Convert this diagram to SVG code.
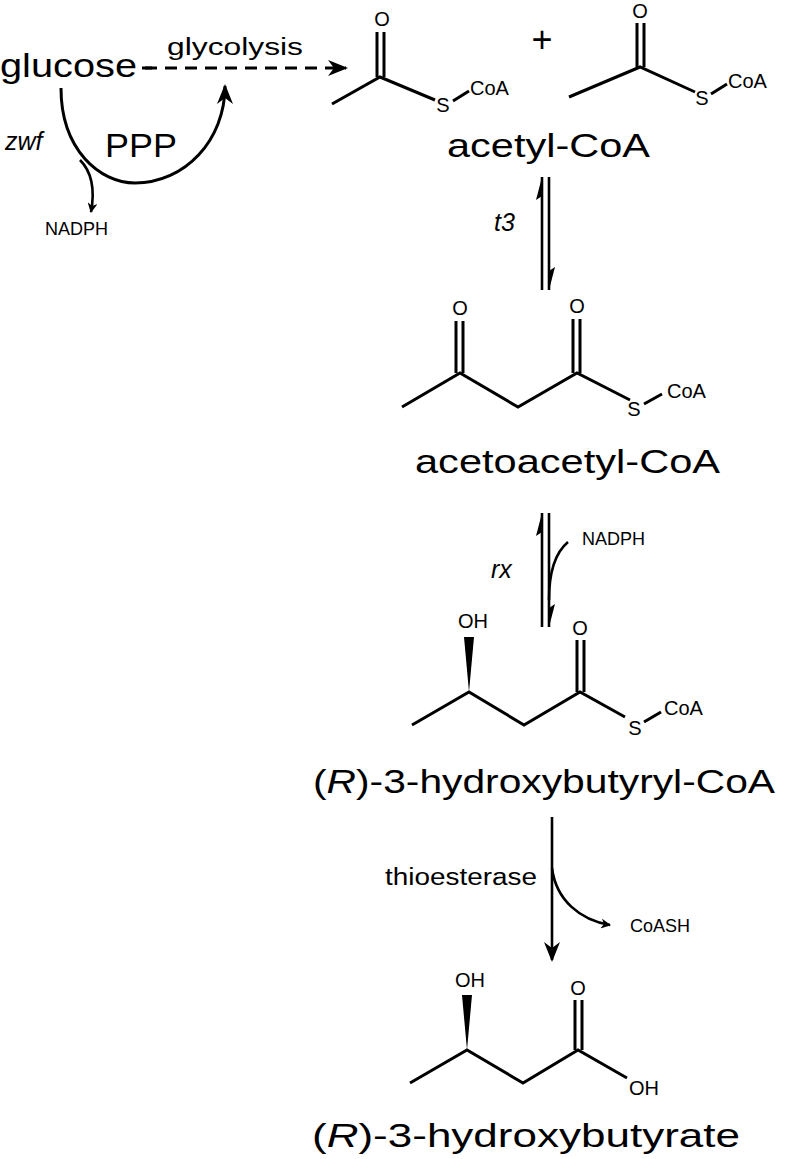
<svg xmlns="http://www.w3.org/2000/svg" width="785" height="1159" viewBox="0 0 785 1159">
<style>
text{font-family:"Liberation Sans",Arial,sans-serif;fill:#000}
.b{stroke:#000;stroke-width:3;fill:none;stroke-linecap:butt;stroke-linejoin:miter}
.t{stroke:#000;stroke-width:2.6;fill:none}
.lg{font-size:33px}
.at{font-size:20px}
.sm{font-size:18px}
.it{font-style:italic}
</style>
<defs>
<marker id="ah" viewBox="0 0 10 10" refX="9" refY="5" markerWidth="12" markerHeight="10" markerUnits="userSpaceOnUse" orient="auto">
<path d="M0,0 L10,5 L0,10 L3,5 Z" fill="#000"/>
</marker>
<marker id="ahL" viewBox="0 0 10 10" refX="9" refY="5" markerWidth="28" markerHeight="20" markerUnits="userSpaceOnUse" orient="auto">
<path d="M0,1 L10,5 L0,9 L3,5 Z" fill="#000"/>
</marker>
</defs>
<g id="connectors">
<line x1="145" y1="68" x2="346" y2="68" class="b" stroke-dasharray="12,8" marker-end="url(#ahL)"/>
<path d="M61,88 C61,150 100,183 135,183 C185,183 225,140 225,86" class="b" marker-end="url(#ahL)"/>
<path d="M80,160 C92,172 95,190 91,212" class="t" marker-end="url(#ah)"/>
<line x1="542" y1="290" x2="542" y2="177" class="t"/><path d="M542,177 L536,200 L542,196 Z" fill="#000"/>
<line x1="549" y1="177" x2="549" y2="290" class="t"/><path d="M549,290 L555,267 L549,271 Z" fill="#000"/>
<line x1="542" y1="627" x2="542" y2="513" class="t"/><path d="M542,513 L536,536 L542,532 Z" fill="#000"/>
<line x1="549" y1="513" x2="549" y2="627" class="t"/><path d="M549,627 L555,604 L549,608 Z" fill="#000"/>
<path d="M568,542 C556,552 549,570 549,600" class="t"/>
<line x1="552" y1="817" x2="552" y2="960" class="t" marker-end="url(#ahL)"/>
<path d="M552,868 C556,900 580,920 610,925" class="t" marker-end="url(#ah)"/>
</g>
<g id="glucose"><text x="0" y="77" class="lg" font-size="34" textLength="137" lengthAdjust="spacingAndGlyphs">glucose</text><line x1="142" y1="68" x2="152" y2="68" class="b"/></g>
<g id="labels-top">
<text x="167" y="55" font-size="23" textLength="136" lengthAdjust="spacingAndGlyphs">glycolysis</text>
<text x="105" y="157" font-size="34" textLength="72" lengthAdjust="spacingAndGlyphs">PPP</text>
<text x="5" y="150" font-size="25" class="it">zwf</text>
<text x="45" y="235" class="sm">NADPH</text>
</g>
<g id="acetyl1">
<polyline points="332,104 380,77 435,100" class="b"/>
<line x1="377" y1="32" x2="377" y2="77" class="b"/><line x1="384" y1="32" x2="384" y2="77" class="b"/>
<text x="382" y="26" class="at" text-anchor="middle">O</text>
<text x="443" y="112" class="at" text-anchor="middle">S</text>
<line x1="453" y1="101" x2="469" y2="91" class="b"/>
<text x="470" y="95" class="at">CoA</text>
</g>
<text x="542" y="52" font-size="36" text-anchor="middle">+</text>
<g id="acetyl2">
<polyline points="569,97 640,67 695,92" class="b"/>
<line x1="637" y1="23" x2="637" y2="67" class="b"/><line x1="644" y1="23" x2="644" y2="67" class="b"/>
<text x="640" y="18" class="at" text-anchor="middle">O</text>
<text x="702" y="105" class="at" text-anchor="middle">S</text>
<line x1="711" y1="94" x2="727" y2="84" class="b"/>
<text x="728" y="88" class="at">CoA</text>
</g>
<g id="acetylCoA"><text x="447" y="157" class="lg" textLength="203" lengthAdjust="spacingAndGlyphs">acetyl-CoA</text></g>
<text x="494" y="231" font-size="25" class="it">t3</text>
<g id="acetoacetyl">
<polyline points="402,407 460,373 518,407 577,373 630,400" class="b"/>
<line x1="456" y1="321" x2="456" y2="373" class="b"/><line x1="463" y1="321" x2="463" y2="373" class="b"/>
<line x1="573" y1="319" x2="573" y2="373" class="b"/><line x1="580" y1="319" x2="580" y2="373" class="b"/>
<text x="460" y="315" class="at" text-anchor="middle">O</text>
<text x="577" y="313" class="at" text-anchor="middle">O</text>
<text x="634" y="416" class="at" text-anchor="middle">S</text>
<line x1="644" y1="404" x2="662" y2="394" class="b"/>
<text x="667" y="398" class="at">CoA</text>
<text x="415" y="473" class="lg" textLength="305" lengthAdjust="spacingAndGlyphs">acetoacetyl-CoA</text>
</g>
<text x="491" y="578" font-size="25" class="it">rx</text>
<text x="582" y="545" class="sm">NADPH</text>
<g id="hbCoA">
<text x="458" y="628" class="at">OH</text>
<path d="M464,637 L474,637 L469,692 Z" fill="#000"/>
<polyline points="412,725 469,692 524,725 580,692 625,717" class="b"/>
<line x1="577" y1="640" x2="577" y2="692" class="b"/><line x1="584" y1="640" x2="584" y2="692" class="b"/>
<text x="580" y="635" class="at" text-anchor="middle">O</text>
<text x="635" y="735" class="at" text-anchor="middle">S</text>
<line x1="644" y1="722" x2="661" y2="712" class="b"/>
<text x="664" y="715" class="at">CoA</text>
<text x="313" y="793" class="lg" textLength="462" lengthAdjust="spacingAndGlyphs">(<tspan class="it">R</tspan>)-3-hydroxybutyryl-CoA</text>
</g>
<text x="385" y="885" font-size="23" textLength="152" lengthAdjust="spacingAndGlyphs">thioesterase</text>
<text x="630" y="932" class="sm">CoASH</text>
<g id="hb">
<text x="455" y="987" class="at">OH</text>
<path d="M462,995 L472,995 L467,1050 Z" fill="#000"/>
<polyline points="410,1083 467,1050 523,1083 578,1050 627,1078" class="b"/>
<line x1="575" y1="1000" x2="575" y2="1050" class="b"/><line x1="582" y1="1000" x2="582" y2="1050" class="b"/>
<text x="578" y="995" class="at" text-anchor="middle">O</text>
<text x="629" y="1095" class="at">OH</text>
<text x="312" y="1147" class="lg" textLength="428" lengthAdjust="spacingAndGlyphs">(<tspan class="it">R</tspan>)-3-hydroxybutyrate</text>
</g>
</svg>
